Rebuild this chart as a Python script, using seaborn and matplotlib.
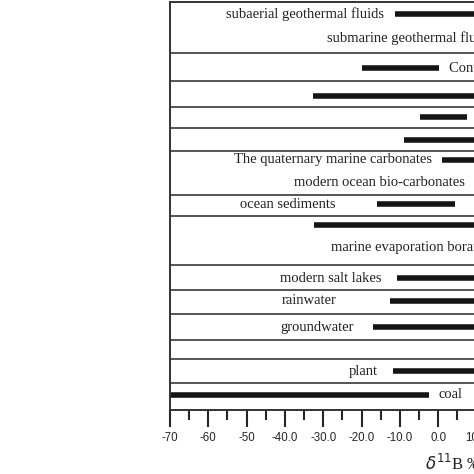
import pandas as pd
import matplotlib
matplotlib.use("Agg")
import matplotlib.pyplot as plt
import seaborn as sns

# rows: label, start, end (δ11B ‰); end values beyond the crop are guesses
names = ["subaerial geothermal fluids", "submarine geothermal fluids", "Continental crust",
         "row_c", "row_d", "row_e", "The quaternary marine carbonates",
         "modern ocean bio-carbonates", "ocean sediments", "row_h",
         "marine evaporation borates", "modern salt lakes", "rainwater",
         "groundwater", "plant", "coal"]
starts = [-11.2, 12.0, -19.8, -32.6, -4.7, -8.9, 1.0, 15.0, -15.9, -32.4, 18.0,
          -10.7, -12.5, -16.9, -11.8, -70.0]
ends = [25.0, 40.0, 0.3, 30.0, 7.6, 30.0, 35.0, 40.0, 4.4, 35.0, 40.0,
        45.0, 40.0, 40.0, 35.0, -2.3]
# vertical position of each row (top = 0)
ypos = [12, 36, 66, 94, 115, 138, 158, 180, 202, 223, 246, 276, 299, 325, 369, 393]
has_bar = [True, False, True, True, True, True, True, False, True, True, False,
           True, True, True, True, True]
label_mode = ["left", "free", "right", "none", "none", "none", "left", "free", "left",
              "none", "free", "left", "left", "left", "left", "right"]
free_x = {"submarine geothermal fluids": -29.0, "modern ocean bio-carbonates": -37.5,
          "marine evaporation borates": -28.0}
label_gap = {"subaerial geothermal fluids": 3, "The quaternary marine carbonates": 2.5,
             "ocean sediments": 11, "modern salt lakes": 4, "rainwater": 14,
             "groundwater": 5, "plant": 4}
separators = [0, 51, 79, 105, 126, 149, 193, 214, 263, 288, 312, 338, 357, 381, 408]

rows = []
for n, s, e, y, b in zip(names, starts, ends, ypos, has_bar):
    if b:
        rows.append({"item": n, "x": s, "y": y})
        rows.append({"item": n, "x": e, "y": y})
df = pd.DataFrame(rows)

sns.set_style("ticks")
fig = plt.figure(figsize=(4.74, 4.74), dpi=100)
ax = fig.add_axes([170 / 474, 64 / 474, 498 / 474, 408 / 474])

sns.lineplot(data=df, x="x", y="y", units="item", estimator=None, sort=False,
             color="#151515", linewidth=4, legend=False, ax=ax, solid_capstyle="butt")

for s in separators[1:-1]:
    ax.axhline(s, color="#555555", linewidth=1.4)

serif = ["Liberation Serif", "DejaVu Serif"]
for n, s, e, y, m in zip(names, starts, ends, ypos, label_mode):
    if m == "left":
        ax.text(s - label_gap[n], y, n, ha="right", va="center", fontsize=10.5,
                family=serif, color="#222222")
    elif m == "right":
        ax.text(e + 2.5, y, n, ha="left", va="center", fontsize=10.5,
                family=serif, color="#222222")
    elif m == "free":
        ax.text(free_x[n], y, n, ha="left", va="center", fontsize=10.5,
                family=serif, color="#222222")

ax.set_xlim(-70, 60)
ax.set_ylim(408, 0)
ax.set_yticks([])
ticks = list(range(-70, 61, 10))
ax.set_xticks(ticks)
ax.set_xticklabels([str(t) if t <= -50 else f"{t:.1f}" for t in ticks],
                   family=["Liberation Sans", "DejaVu Sans"], fontsize=8.3)
ax.set_xticks([t + 5 for t in ticks[:-1]], minor=True)
ax.tick_params(axis="x", which="major", length=12, width=1.5, direction="out", pad=4)
ax.tick_params(axis="x", which="minor", length=7, width=1.5, direction="out")
ax.set_xlabel("")
ax.set_ylabel("")
for sp in ax.spines.values():
    sp.set_color("#333333")
    sp.set_linewidth(1.4)
ax.text(-3.5, 452, r"$\delta^{11}$B ‰", ha="left", va="top", fontsize=12,
        family=serif, color="#222222", clip_on=False)

fig.savefig("out.png", dpi=100)
